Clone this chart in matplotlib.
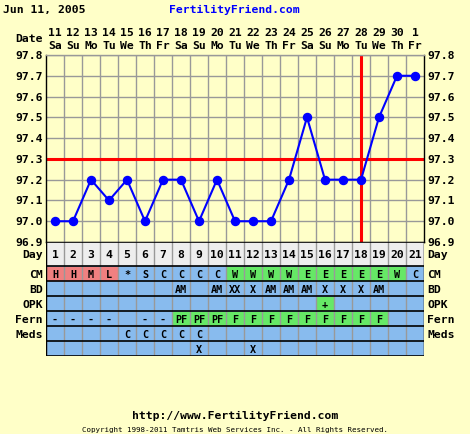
import matplotlib.pyplot as plt
from matplotlib.patches import Rectangle

# chart data
dates = ['11', '12', '13', '14', '15', '16', '17', '18', '19', '20', '21',
         '22', '23', '24', '25', '26', '27', '28', '29', '30', '1']
weekdays = ['Sa', 'Su', 'Mo', 'Tu', 'We', 'Th', 'Fr', 'Sa', 'Su', 'Mo', 'Tu',
            'We', 'Th', 'Fr', 'Sa', 'Su', 'Mo', 'Tu', 'We', 'Th', 'Fr']
days = list(range(1, 22))
temps = [97.0, 97.0, 97.2, 97.1, 97.2, 97.0, 97.2, 97.2, 97.0, 97.2, 97.0,
         97.0, 97.0, 97.2, 97.5, 97.2, 97.2, 97.2, 97.5, 97.7, 97.7]
coverline = 97.3
ovulation_day = 18

cm = ['H', 'H', 'M', 'L', '*', 'S', 'C', 'C', 'C', 'C', 'W',
      'W', 'W', 'W', 'E', 'E', 'E', 'E', 'E', 'W', 'C']
cm_mark = ['r', 'r', 'r', 'r', '', '', '', '', '', '', 'g',
           'g', 'g', 'g', 'g', 'g', 'g', 'g', 'g', 'g', '']
bd = ['', '', '', '', '', '', '', 'AM', '', 'AM', 'XX',
      'X', 'AM', 'AM', 'AM', 'X', 'X', 'X', 'AM', '', '']
opk = [''] * 15 + ['+'] + [''] * 5
opk_mark = [''] * 15 + ['g'] + [''] * 5
fern = ['-', '-', '-', '-', '', '-', '-', 'PF', 'PF', 'PF', 'F',
        'F', 'F', 'F', 'F', 'F', 'F', 'F', 'F', '', '']
fern_mark = ['', '', '', '', '', '', '', 'g', 'g', 'g', 'g',
             'g', 'g', 'g', 'g', 'g', 'g', 'g', 'g', '', '']
meds = ['', '', '', '', 'C', 'C', 'C', 'C', 'C', '', '',
        '', '', '', '', '', '', '', '', '', '']
extra = ['', '', '', '', '', '', '', '', 'X', '', '',
         'X', '', '', '', '', '', '', '', '', '']
row_labels = ['Day', 'CM', 'BD', 'OPK', 'Fern', 'Meds', '']

bg = '#ffffc8'
blue_row = '#88bbee'
grey_row = '#eeeeee'
green = '#66e866'
salmon = '#f08080'
grid_c = '#999999'
font = 'DejaVu Sans Mono'
fs = 8.2
fs_cell = 7.3

W, H = 470, 435
fig = plt.figure(figsize=(4.7, 4.35), dpi=100, facecolor=bg)


def fx(px):
    return px / W


def fy(py):
    return 1 - py / H


# temperature chart
ax = fig.add_axes([fx(46), fy(243), fx(424) - fx(46), fy(56) - fy(243)])
ax.set_facecolor(bg)
ax.set_xlim(0.5, 21.5)
ax.set_ylim(96.9, 97.8)
yt = [96.9 + 0.1 * i for i in range(10)]
for y in yt:
    ax.axhline(y, color=grid_c, lw=1, zorder=1)
for d in range(1, 21):
    ax.axvline(d + 0.5, color=grid_c, lw=1, zorder=1)
ax.axhline(coverline, color='red', lw=2.2, zorder=2)
ax.axvline(ovulation_day, color='red', lw=2.2, zorder=2)
ax.plot(days, temps, color='#0000ff', lw=1.5, marker='o', ms=5.8, zorder=3)
ax.set_xticks([])
ax.set_yticks([])
for s in ax.spines.values():
    s.set_color('black')
    s.set_linewidth(1)
ax.spines['top'].set_color(grid_c)
for y in yt:
    lab = '%.1f' % y
    ax.text(-0.008, y, lab, transform=ax.get_yaxis_transform(), ha='right', va='center',
            fontsize=fs, fontweight='bold', family=font)
    ax.text(1.008, y, lab, transform=ax.get_yaxis_transform(), ha='left', va='center',
            fontsize=fs, fontweight='bold', family=font)
for d, dt, wd in zip(days, dates, weekdays):
    ax.text(d, 97.8 + 0.11, dt, ha='center', va='center', fontsize=fs,
            fontweight='bold', family=font, clip_on=False)
    ax.text(d, 97.8 + 0.05, wd, ha='center', va='center', fontsize=fs,
            fontweight='bold', family=font, clip_on=False)
ax.text(-0.008, 97.8 + 0.08, 'Date', transform=ax.get_yaxis_transform(), ha='right',
        va='center', fontsize=fs, fontweight='bold', family=font)

# table below
tb = fig.add_axes([fx(46), fy(357), fx(424) - fx(46), fy(243) - fy(357)])
tb.set_xlim(0.5, 21.5)
tb.set_ylim(114, 0)
tb.set_xticks([])
tb.set_yticks([])
for s in tb.spines.values():
    s.set_visible(False)
edges = [0, 24, 39, 54, 69, 84, 99, 114]
tb.add_patch(Rectangle((0.5, 0), 21, 24, color=grey_row, zorder=0))
tb.add_patch(Rectangle((0.5, 24), 21, 90, color=blue_row, zorder=0))

rows = [
    (cm, cm_mark),
    (bd, [''] * 21),
    (opk, opk_mark),
    (fern, fern_mark),
    (meds, [''] * 21),
    (extra, [''] * 21),
]
for i, (vals, marks) in enumerate(rows):
    y0, y1 = edges[i + 1], edges[i + 2]
    yc = (y0 + y1) / 2
    for d, v, m in zip(days, vals, marks):
        if m:
            c = salmon if m == 'r' else green
            tb.add_patch(Rectangle((d - 0.43, y0 + 1.2), 0.86, y1 - y0 - 2.4,
                                   color=c, zorder=1))
        if v:
            tb.text(d, yc + 0.5, v, ha='center', va='center', fontsize=fs_cell,
                    fontweight='bold', family=font, zorder=3)
for d in days:
    tb.text(d, 12.5, str(d), ha='center', va='center', fontsize=fs,
            fontweight='bold', family=font, zorder=3)
for d in range(0, 22):
    tb.plot([d + 0.5, d + 0.5], [0, 114], color=grid_c, lw=1, zorder=2)
tb.plot([0.5, 0.5], [0, 114], color='black', lw=1, zorder=2)
tb.plot([21.5, 21.5], [0, 114], color='black', lw=1, zorder=2)
for e in edges:
    tb.plot([0.5, 21.5], [e, e], color='black', lw=1.2, zorder=2)
for i, lab in enumerate(row_labels):
    if not lab:
        continue
    yc = (edges[i] + edges[i + 1]) / 2 + 0.5
    tb.text(-0.008, yc, lab, transform=tb.get_yaxis_transform(), ha='right',
            va='center', fontsize=fs, fontweight='bold', family=font)
    tb.text(1.008, yc, lab, transform=tb.get_yaxis_transform(), ha='left',
            va='center', fontsize=fs, fontweight='bold', family=font)

# header / footer
fig.text(fx(3), fy(10), 'Jun 11, 2005', ha='left', va='center', fontsize=fs,
         fontweight='bold', family=font)
fig.text(fx(234), fy(10), 'FertilityFriend.com', ha='center', va='center',
         fontsize=fs, fontweight='bold', family=font, color='#0000ff')
fig.text(0.5, fy(416), 'http://www.FertilityFriend.com', ha='center', va='center',
         fontsize=fs, fontweight='bold', family=font)
fig.text(0.5, fy(430), 'Copyright 1998-2011 Tamtris Web Services Inc. - All Rights Reserved.',
         ha='center', va='center', fontsize=5.4, family=font)

fig.savefig('out.png', dpi=100, facecolor=bg)
